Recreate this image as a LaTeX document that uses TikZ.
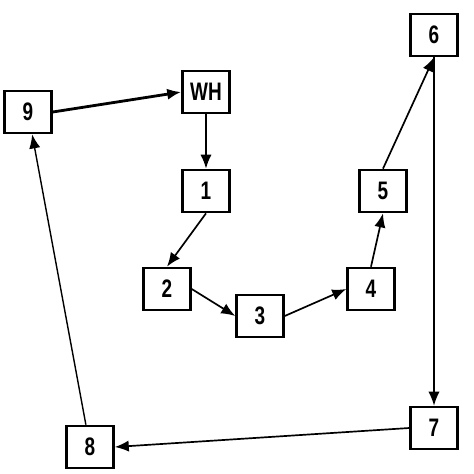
\documentclass[tikz,border=0pt]{standalone}
\usepackage{fontspec}
\newfontfamily\cifre[FakeStretch=0.75]{Liberation Sans}
\usetikzlibrary{arrows.meta}
\begin{document}
\begin{tikzpicture}[x=0.025cm, y=-0.025cm,
    casella/.style={draw, line width=1.6pt, minimum width=1.18cm, minimum height=1.06cm, inner sep=0pt, font=\cifre\bfseries\fontsize{18}{20}\selectfont},
    freccia/.style={-{Latex[length=10pt, width=8pt]}, line width=1.2pt}]
    \useasboundingbox (0,0) rectangle (474,474);
    % Nodi
    \node[casella] (WH) at (206,92) {WH};
    \node[casella] (n1) at (206,191) {1};
    \node[casella] (n2) at (167,289) {2};
    \node[casella] (n3) at (260,316) {3};
    \node[casella] (n4) at (371,289) {4};
    \node[casella] (n5) at (383,191) {5};
    \node[casella] (n6) at (434,35) {6};
    \node[casella] (n7) at (434,428) {7};
    \node[casella] (n8) at (90,447) {8};
    \node[casella] (n9) at (28,112) {9};
    % Percorso
    \draw[freccia] (WH.south) -- (n1.north);
    \draw[freccia] (n1.south) -- (n2.north);
    \draw[freccia] (n2.east) -- (n3.west);
    \draw[freccia] (n3.east) -- (n4.west);
    \draw[freccia] (n4.north) -- (n5.south);
    \draw[freccia] (n5.north) -- (n6.south);
    \draw[freccia, line width=0.9pt] (n6.south) -- (n7.north);
    \draw[freccia] (n7.west) -- (n8.east);
    \draw[freccia, line width=1pt] (n8) -- (n9);
    \draw[freccia, line width=2pt] (n9.east) -- (WH.west);
\end{tikzpicture}
\end{document}
